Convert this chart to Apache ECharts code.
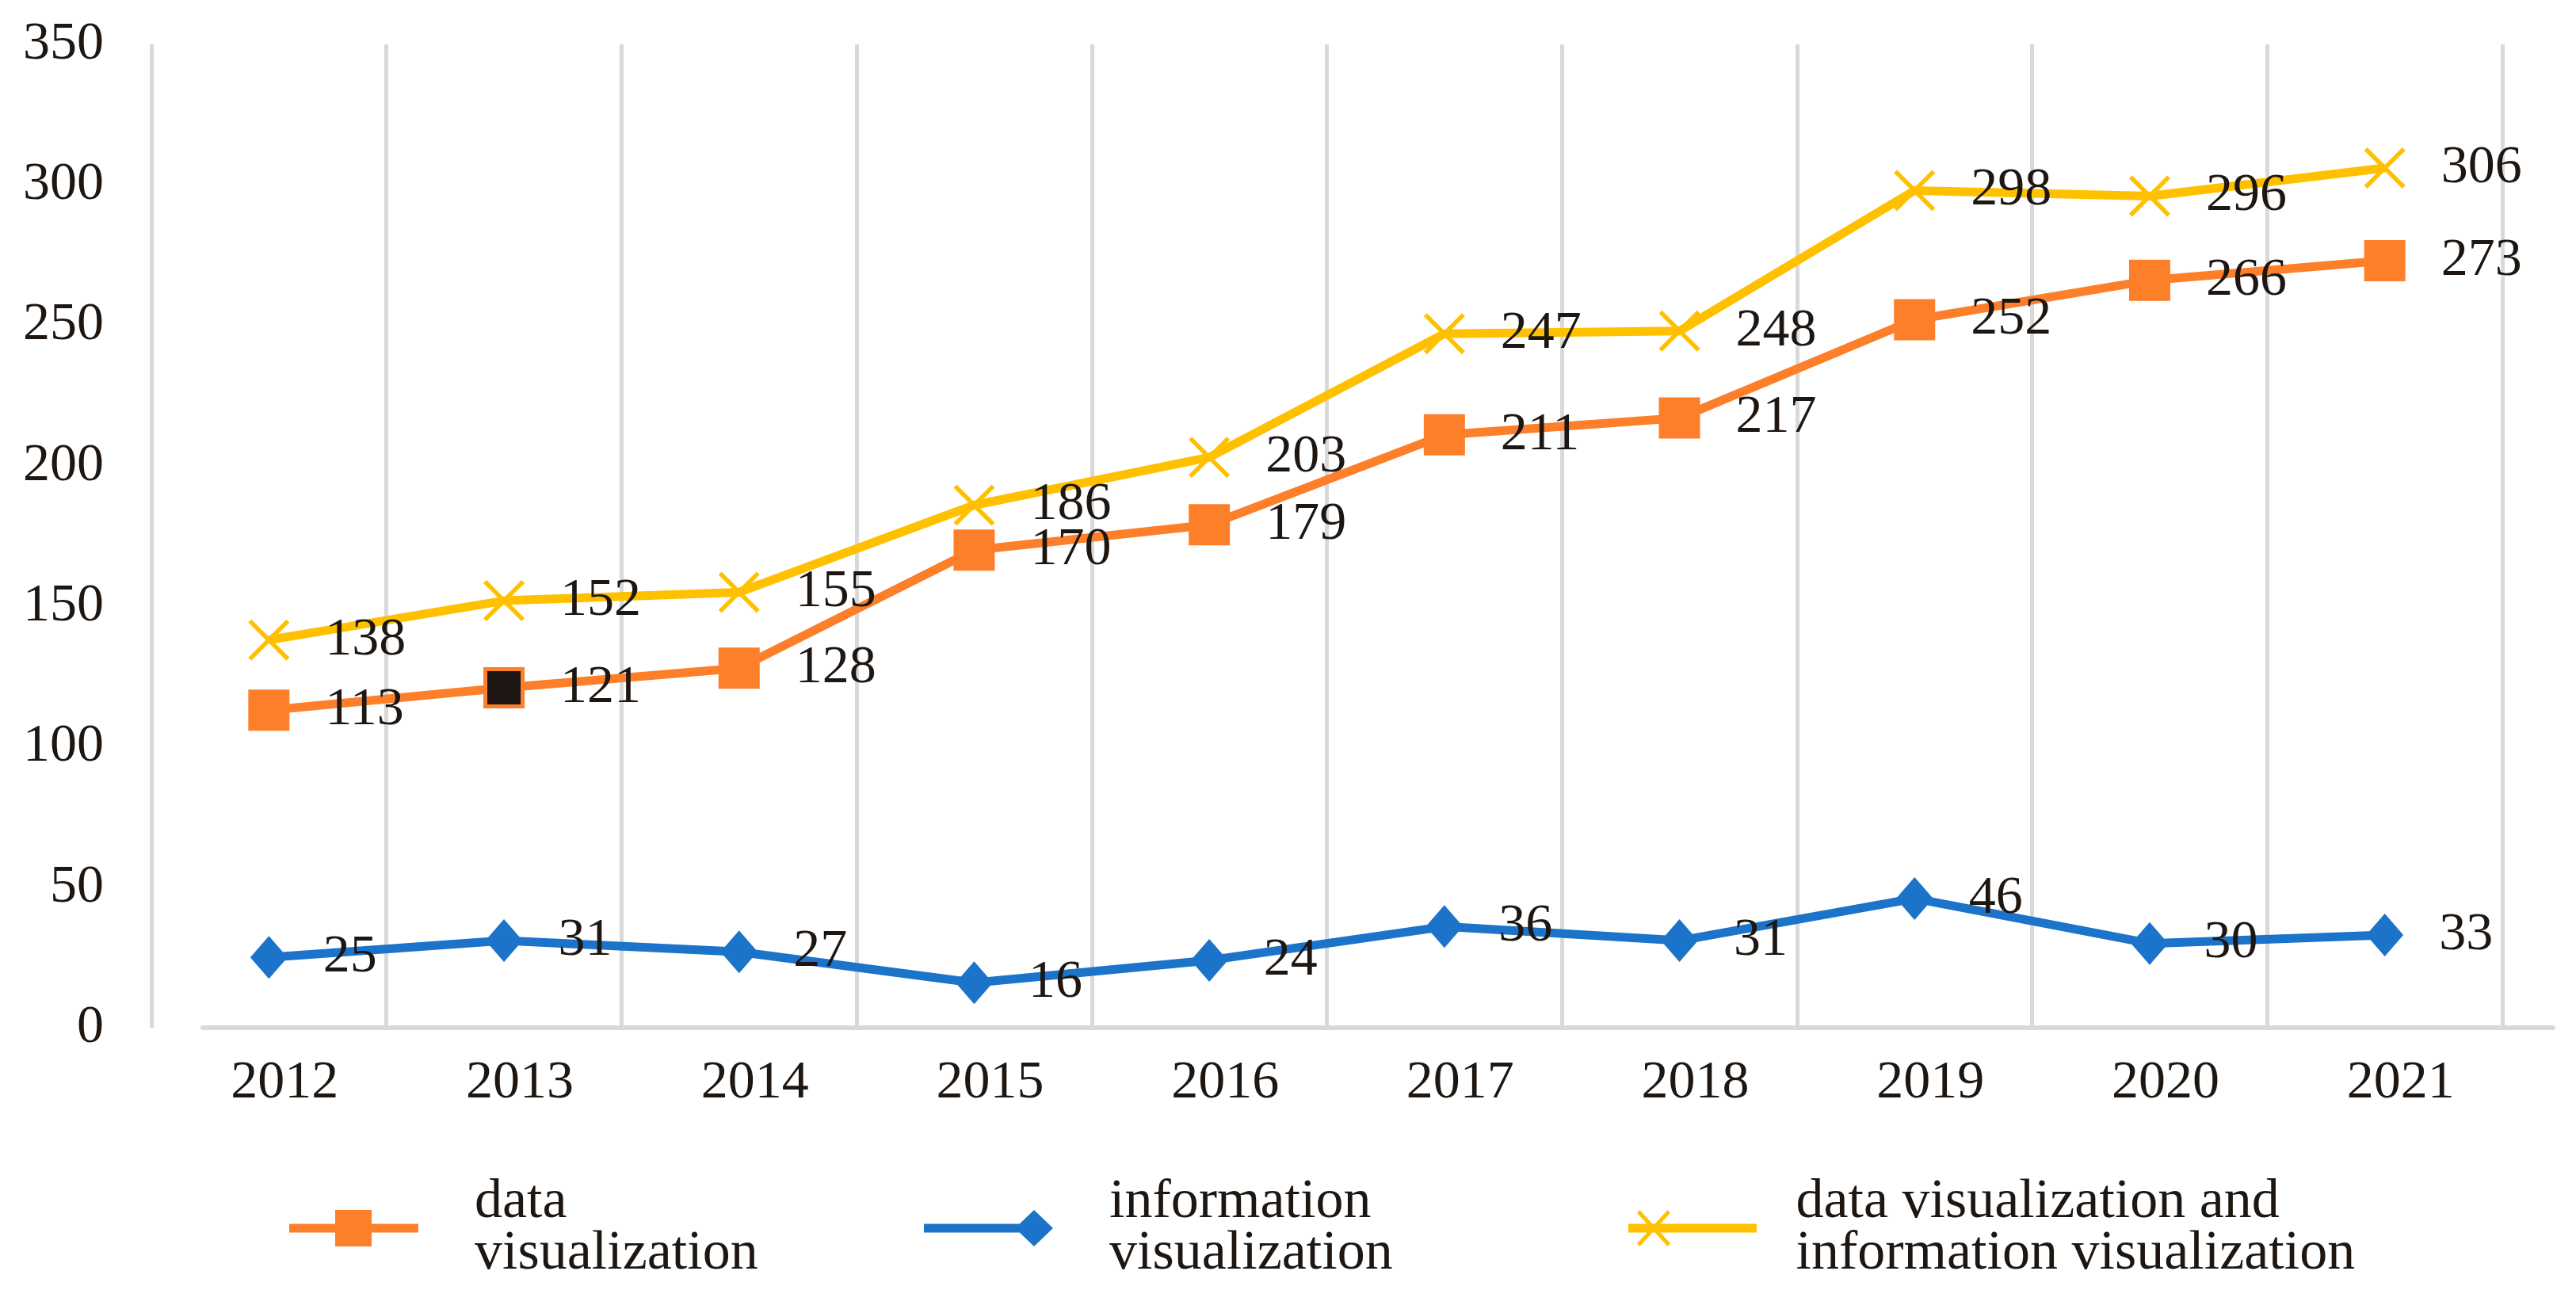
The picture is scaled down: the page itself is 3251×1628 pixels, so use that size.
<!DOCTYPE html>
<html>
<head>
<meta charset="utf-8">
<script src="https://cdn.jsdelivr.net/npm/echarts@6/dist/echarts.min.js"></script>
<style>
html,body{margin:0;padding:0;background:#fff;}
#chart{width:3251px;height:1628px;}
</style>
</head>
<body>
<div id="chart"></div>
<script>
const years = ['2012','2013','2014','2015','2016','2017','2018','2019','2020','2021'];
const dataVis = [113,121,128,170,179,211,217,252,266,273];
const infoVis = [25,31,27,16,24,36,31,46,30,33];
const bothVis = [138,152,155,186,203,247,248,298,296,306];
const seriesNames = ['data visualization','information visualization','data visualization and information visualization'];
const legendLabels = ['data\nvisualization','information\nvisualization','data visualization and\ninformation visualization'];

const ORANGE = '#fd7f2a';
const BLUE = '#1b74c9';
const YELLOW = '#ffc000';
const GRAY = '#d9d9d9';
const TEXT = '#1d1611';
const FONT = '"Liberation Serif", "Times New Roman", serif';

function xShape(x0, y0, w, h, d) {
  const sx = w / 10, sy = h / 10;
  const pts = [[0,d],[d,0],[5,5-d],[10-d,0],[10,d],[5+d,5],[10,10-d],[10-d,10],[5,5+d],[d,10],[0,10-d],[5-d,5]];
  return 'M' + pts.map(p => (x0 + p[0]*sx).toFixed(2) + ',' + (y0 + p[1]*sy).toFixed(2)).join(' L') + ' Z';
}
const X_SYMBOL = 'path://' + xShape(0, 0, 10, 10, 0.75);

const ICON_ORANGE = 'path://M0,17.5 L163,17.5 L163,28.5 L0,28.5 Z M58,0 L104,0 L104,46 L58,46 Z';
const ICON_BLUE = 'path://M0,17.5 L140,17.5 L140,28.5 L0,28.5 Z M139,0 L163,23 L139,46 L115,23 Z';
const ICON_YELLOW = 'path://M0,17.5 L162,17.5 L162,28.5 L0,28.5 Z ' + xShape(11, 0, 42, 46, 0.8);

const labelCfg = {
  show: true, position: 'right', distance: 45,
  fontFamily: FONT, fontSize: 68, color: TEXT
};

const dataVisItems = dataVis.map((v, i) => i === 1
  ? { value: v, symbolSize: 47, itemStyle: { color: '#1e1612', borderColor: ORANGE, borderWidth: 5 } }
  : v);

function legendFor(idx, left, icon, padLeft) {
  return {
    data: [{ name: seriesNames[idx], icon: icon }],
    left: left, top: 1478, padding: 0,
    itemWidth: 163, itemHeight: 46,
    selectedMode: false,
    formatter: () => legendLabels[idx],
    textStyle: { fontFamily: FONT, fontSize: 70, lineHeight: 65, color: TEXT, padding: [14, 0, 0, padLeft] }
  };
}

const chart = echarts.init(document.getElementById('chart'));
chart.setOption({
  backgroundColor: '#ffffff',
  animation: false,
  grid: [
    { left: 191, right: 93, top: 56, bottom: 331 },
    { left: 256, right: 29, top: 56, bottom: 331 }
  ],
  legend: [
    legendFor(0, 365, ICON_ORANGE, 66),
    legendFor(1, 1166, ICON_BLUE, 66),
    legendFor(2, 2055, ICON_YELLOW, 44)
  ],
  xAxis: [
    {
      type: 'category', data: years, boundaryGap: true, gridIndex: 0,
      axisLine: { show: false },
      axisTick: { show: false },
      axisLabel: { fontFamily: FONT, fontSize: 68, color: TEXT, margin: 36, padding: [0, 0, 0, 40] },
      splitLine: { show: true, lineStyle: { color: GRAY, width: 5 } }
    },
    {
      type: 'value', gridIndex: 1, min: 0, max: 1,
      axisLine: { show: true, lineStyle: { color: GRAY, width: 6 } },
      axisTick: { show: false }, axisLabel: { show: false }, splitLine: { show: false }
    }
  ],
  yAxis: [
    {
      type: 'value', min: 0, max: 350, interval: 50, gridIndex: 0,
      axisLine: { show: false }, axisTick: { show: false },
      splitLine: { show: false },
      axisLabel: { fontFamily: FONT, fontSize: 68, color: TEXT, margin: 60 }
    },
    { type: 'value', gridIndex: 1, show: false, min: 0, max: 1 }
  ],
  series: [
    {
      name: seriesNames[0], type: 'line', data: dataVisItems,
      symbol: 'rect', symbolSize: 52,
      itemStyle: { color: ORANGE },
      lineStyle: { color: ORANGE, width: 11 },
      label: labelCfg, z: 3
    },
    {
      name: seriesNames[1], type: 'line', data: infoVis,
      symbol: 'diamond', symbolSize: [47, 54],
      itemStyle: { color: BLUE },
      lineStyle: { color: BLUE, width: 11 },
      label: labelCfg, z: 2
    },
    {
      name: seriesNames[2], type: 'line', data: bothVis,
      symbol: X_SYMBOL, symbolSize: 52,
      itemStyle: { color: YELLOW },
      lineStyle: { color: YELLOW, width: 11 },
      label: labelCfg, z: 4
    }
  ]
});
</script>
</body>
</html>
